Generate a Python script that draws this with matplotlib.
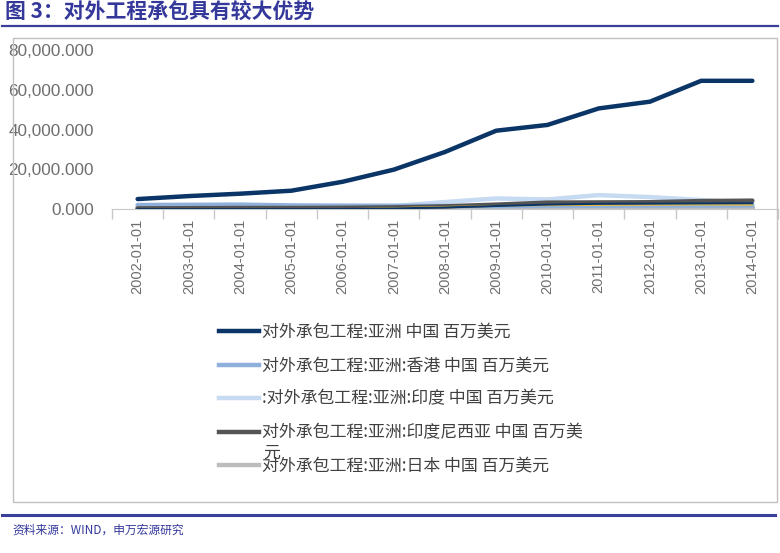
import matplotlib
matplotlib.use("Agg")
import matplotlib.pyplot as plt
from matplotlib.lines import Line2D
from matplotlib.patches import Rectangle
from matplotlib.ticker import FuncFormatter, FixedLocator

plt.rcParams['font.family'] = ['Liberation Sans', 'Noto Sans CJK SC', 'DejaVu Sans']

# 数据（百万美元，读图估计）
dates = ["2002-01-01", "2003-01-01", "2004-01-01", "2005-01-01", "2006-01-01", "2007-01-01",
         "2008-01-01", "2009-01-01", "2010-01-01", "2011-01-01", "2012-01-01", "2013-01-01", "2014-01-01"]
asia = [5000, 6500, 7700, 9200, 13700, 19800, 28700, 39400, 42300, 50600, 54000, 64500, 64500]
hongkong = [2000, 2100, 2200, 1800, 1700, 1600, 1500, 1500, 1600, 1600, 1700, 1700, 1800]
india = [1000, 1100, 1200, 1200, 1300, 1500, 3500, 5300, 4800, 7000, 6000, 4500, 3000]
indonesia = [300, 400, 500, 500, 600, 800, 1300, 2200, 3200, 3300, 3400, 4000, 4200]
japan = [500, 500, 600, 500, 500, 500, 600, 600, 700, 700, 700, 800, 800]
others_dark = [200, 200, 300, 300, 300, 300, 400, 400, 500, 500, 500, 600, 600]
others_navy = [0, 0, 0, 0, 0, 300, 800, 1500, 2200, 2600, 2700, 2800, 2900]
others_gold = [0, 0, 0, 0, 0, 600, 1200, 1600, 1800, 1900, 2000, 2100, 2000]

names = ["对外承包工程:亚洲 中国 百万美元",
         "对外承包工程:亚洲:香港 中国 百万美元",
         ":对外承包工程:亚洲:印度 中国 百万美元",
         "对外承包工程:亚洲:印度尼西亚 中国 百万美",
         "对外承包工程:亚洲:日本 中国 百万美元"]
colors = ["#0a3566", "#8fb0da", "#c6daf2", "#555555", "#bdbdbd"]

W, H = 780, 553
fig = plt.figure(figsize=(7.8, 5.53), dpi=100)

def fx(px): return px / W
def fy(py): return 1 - py / H

# 外框和标题、来源
fig.add_artist(Rectangle((fx(13), fy(502)), fx(777) - fx(13), fy(38) - fy(502),
                         transform=fig.transFigure, fill=False, ec="#c0c0c0", lw=1))
fig.add_artist(Line2D([fx(2), fx(778)], [fy(26), fy(26)], transform=fig.transFigure, color="#3a3f9a", lw=1.6))
fig.add_artist(Line2D([fx(2), fx(775)], [fy(515), fy(515)], transform=fig.transFigure, color="#3a3f9a", lw=2.2))
fig.text(fx(5), fy(12.5), "图 3：对外工程承包具有较大优势", family=['Noto Sans CJK SC'], fontweight="bold",
         fontsize=15, color="#33389a", va="center", ha="left")
fig.text(fx(12), fy(530), "资料来源：WIND，申万宏源研究", family=['Noto Sans CJK SC'],
         fontsize=8.5, color="#33389a", va="center", ha="left")

ax = fig.add_axes([fx(112), fy(209), fx(778) - fx(112), fy(50) - fy(209)])
x = list(range(len(dates)))
ax.plot(x, others_dark, color="#5a5a5a", lw=3.2, solid_capstyle="round", zorder=2)
ax.plot(x, japan, color=colors[4], lw=3.2, solid_capstyle="round", zorder=2)
ax.plot(x, india, color=colors[2], lw=3.2, solid_capstyle="round", zorder=2)
ax.plot(x, hongkong, color=colors[1], lw=3.2, solid_capstyle="round", zorder=3)
ax.plot(x, indonesia, color=colors[3], lw=3.2, solid_capstyle="round", zorder=3)
ax.plot(x, others_gold, color="#e8b830", lw=1.0, zorder=4)
ax.plot(x, others_navy, color="#0a3566", lw=1.4, zorder=4)
ax.plot(x, asia, color=colors[0], lw=3.2, solid_capstyle="round", zorder=5)

ax.set_xlim(-0.5, len(dates) - 0.5)
ax.set_ylim(0, 80000)
ax.set_yticks([0, 20000, 40000, 60000, 80000])
ax.yaxis.set_major_formatter(FuncFormatter(lambda v, p: f"{v:,.3f}"))
ax.set_xticks(x)
ax.set_xticklabels(dates, rotation=90, fontsize=10.5, color="#6e6e6e")
ax.xaxis.set_minor_locator(FixedLocator([i - 0.5 for i in range(len(dates) + 1)]))
ax.tick_params(axis="x", which="major", length=0, pad=7)
ax.tick_params(axis="x", which="minor", length=7, color="#c8c8c8", width=1)
ax.tick_params(axis="y", length=0, labelsize=12.3, labelcolor="#6e6e6e", pad=13)
for s in ["top", "right", "left"]:
    ax.spines[s].set_visible(False)
ax.spines["bottom"].set_color("#c8c8c8")
ax.patch.set_alpha(0)

# 图例
ys = [331, 365, 398, 432, 465]
for name, c, yy in zip(names, colors, ys):
    fig.add_artist(Line2D([fx(219), fx(259)], [fy(yy), fy(yy)], transform=fig.transFigure,
                          color=c, lw=3.2))
    fig.text(fx(262), fy(yy), name, family=['Noto Sans CJK SC'], fontsize=12.2,
             color="#404040", va="center", ha="left")
fig.text(fx(263), fy(453), "元", family=['Noto Sans CJK SC'], fontsize=12.2,
         color="#404040", va="center", ha="left")

fig.savefig("out.png", dpi=100)
